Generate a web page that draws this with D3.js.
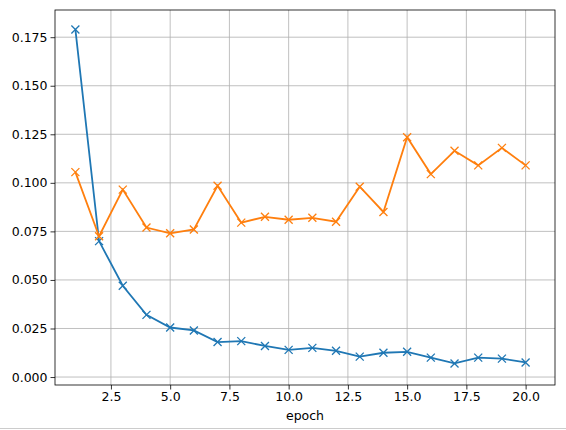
<!DOCTYPE html>
<html><head><meta charset="utf-8">
<script src="https://cdn.jsdelivr.net/npm/d3@7"></script>
<style>body{margin:0;background:#fff}</style></head>
<body><svg id="c" width="566" height="430"></svg>
<script>
const epochs=[1,2,3,4,5,6,7,8,9,10,11,12,13,14,15,16,17,18,19,20];
const train=[0.179,0.070,0.047,0.032,0.0255,0.024,0.018,0.0185,0.016,0.014,0.015,0.0135,0.0105,0.0125,0.013,0.010,0.007,0.010,0.0095,0.0075];
const val=[0.1055,0.0725,0.0965,0.077,0.074,0.076,0.0985,0.0795,0.0825,0.081,0.082,0.080,0.098,0.085,0.1235,0.1045,0.1165,0.109,0.118,0.109];
const xTicks=[2.5,5,7.5,10,12.5,15,17.5,20];
const yTicks=[0,0.025,0.05,0.075,0.1,0.125,0.15,0.175];
const L=55,R=555,T=10,B=385;
const svg=d3.select("#c");
const x=d3.scaleLinear().domain([0.14,21.24]).range([L,R]);
const y=d3.scaleLinear().domain([-0.0041,0.189]).range([B,T]);
const g=svg.append("g");
xTicks.forEach(t=>g.append("line").attr("x1",x(t)).attr("x2",x(t)).attr("y1",T).attr("y2",B).attr("stroke","#b0b0b0").attr("stroke-width",0.8));
yTicks.forEach(t=>g.append("line").attr("y1",y(t)).attr("y2",y(t)).attr("x1",L).attr("x2",R).attr("stroke","#b0b0b0").attr("stroke-width",0.8));
const xa=svg.append("g").attr("transform",`translate(0,${B})`).call(d3.axisBottom(x).tickValues(xTicks).tickFormat(d3.format(".1f")).tickSize(4.5).tickPadding(3));
const ya=svg.append("g").attr("transform",`translate(${L},0)`).call(d3.axisLeft(y).tickValues(yTicks).tickFormat(d3.format(".3f")).tickSize(4.5).tickPadding(3));
[xa,ya].forEach(a=>{a.select(".domain").remove();a.selectAll("text").attr("font-family","DejaVu Sans").attr("font-size",12.5).attr("fill","#000");a.selectAll("line").attr("stroke","#000").attr("stroke-width",0.8);});
svg.append("rect").attr("x",L).attr("y",T).attr("width",R-L).attr("height",B-T).attr("fill","none").attr("stroke","#000").attr("stroke-width",0.8);
const line=d3.line().x((d,i)=>x(epochs[i])).y(d=>y(d));
[[train,"#1f77b4"],[val,"#ff7f0e"]].forEach(([s,c])=>{
  svg.append("path").attr("d",line(s)).attr("fill","none").attr("stroke",c).attr("stroke-width",1.8);
  s.forEach((d,i)=>{const cx=x(epochs[i]),cy=y(d),r=4;
    svg.append("path").attr("d",`M${cx-r},${cy-r}L${cx+r},${cy+r}M${cx-r},${cy+r}L${cx+r},${cy-r}`).attr("stroke",c).attr("stroke-width",1.3);});
});
svg.append("text").attr("x",(L+R)/2).attr("y",420).attr("text-anchor","middle").attr("font-family","DejaVu Sans").attr("font-size",12.5).text("epoch");
svg.append("line").attr("x1",0).attr("x2",566).attr("y1",428.5).attr("y2",428.5).attr("stroke","#ccc");
</script></body></html>
